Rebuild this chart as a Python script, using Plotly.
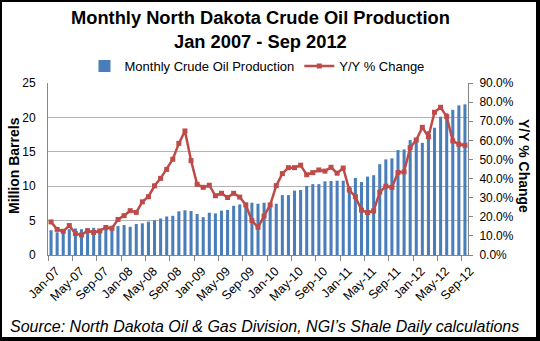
import pandas as pd
import plotly.graph_objects as go

# Months covered, Jan 2007 through Sep 2012
months = pd.date_range("2007-01-01", periods=69, freq="MS").strftime("%b-%y").tolist()

# Monthly crude oil production, million barrels
production = [
    3.6, 3.3, 3.4, 3.75, 3.85, 3.75, 3.9, 3.95, 3.75, 3.85, 3.95, 4.2,        # 2007
    4.35, 4.1, 4.5, 4.6, 4.85, 5.05, 5.3, 5.6, 5.7, 6.35, 6.5, 6.4,           # 2008
    5.95, 5.5, 6.15, 6.05, 6.45, 6.55, 7.15, 7.35, 7.6, 7.6, 7.45, 7.6,       # 2009
    7.55, 7.45, 8.7, 8.7, 9.35, 9.45, 10.05, 10.3, 10.3, 10.7, 10.75, 10.8,   # 2010
    10.8, 10.0, 11.2, 10.6, 11.4, 11.6, 13.2, 13.9, 14.05, 15.25, 15.35, 16.7,  # 2011
    16.9, 16.3, 18.0, 18.5, 20.1, 20.6, 21.1, 21.75, 21.9,                   # 2012
]

# Year-over-year change, percent
yoy_pct = [
    17.3, 13.4, 12.4, 15.4, 11.2, 10.5, 12.7, 11.8, 12.6, 14.4, 14.0, 18.6,
    20.6, 23.2, 22.3, 27.8, 30.5, 36.2, 40.1, 44.8, 50.1, 58.4, 64.9, 49.4,
    37.0, 35.4, 36.5, 31.0, 32.3, 30.1, 32.3, 30.3, 26.2, 18.0, 14.5, 20.4,
    26.2, 36.3, 42.6, 45.7, 45.7, 47.0, 42.0, 43.1, 44.5, 43.9, 45.9, 42.8,
    45.5, 34.0, 30.5, 23.5, 22.2, 23.1, 32.9, 36.0, 35.4, 43.2, 43.5, 56.2,
    60.2, 66.8, 61.9, 74.7, 77.3, 72.4, 59.7, 57.9, 57.4,
]
yoy = [v / 100 for v in yoy_pct]

FONT = "Liberation Sans, Arial, sans-serif"
W, H = 540, 341
L, R, T, B = 48, 72, 83, 86
PW, PH = W - L - R, H - T - B


def px(x):
    return (x - L) / PW


def py(y):
    return (H - B - y) / PH


fig = go.Figure()
fig.add_trace(go.Bar(
    x=months, y=production, name="Monthly Crude Oil Production",
    marker=dict(color="#4A7EBB", line=dict(width=0)),
))
fig.add_trace(go.Scatter(
    x=months, y=yoy, name="Y/Y % Change", yaxis="y2", mode="lines+markers",
    line=dict(color="#BE4B48", width=2.5),
    marker=dict(symbol="square", size=5, color="#BE4B48"),
))

fig.update_layout(
    width=W, height=H,
    margin=dict(l=L, r=R, t=T, b=B),
    paper_bgcolor="black",
    plot_bgcolor="rgba(0,0,0,0)",
    font=dict(family=FONT, size=12, color="black"),
    bargap=0.5,
    showlegend=True,
    legend=dict(
        orientation="h", x=px(257), y=py(66), xanchor="center", yanchor="middle",
        font=dict(size=13), bgcolor="rgba(0,0,0,0)", itemwidth=30,
        traceorder="normal",
    ),
    xaxis=dict(
        type="category", tickmode="linear", dtick=4, tickangle=-45,
        tickson="boundaries", ticks="outside", ticklen=5, tickcolor="#868686",
        showline=True, linecolor="#868686", linewidth=1, showgrid=False,
        tickfont=dict(size=12.5), range=[-0.5, 68.5],
        ticklabelshift=5, ticklabelstandoff=3,
    ),
    yaxis=dict(
        range=[0, 25], dtick=5, showgrid=True, gridcolor="#B4B4B4", gridwidth=1.2,
        showline=True, linecolor="#868686", linewidth=1, ticks="",
        ticklabelstandoff=9, zeroline=False, tickfont=dict(size=12),
    ),
    yaxis2=dict(
        range=[0, 0.9], dtick=0.1, tickformat=".1%", overlaying="y", side="right",
        showgrid=False, showline=True, linecolor="#868686", linewidth=1,
        ticks="outside", ticklen=4, tickcolor="#868686", ticklabelstandoff=4,
        zeroline=False, tickfont=dict(size=12),
    ),
    shapes=[
        dict(type="rect", xref="paper", yref="paper", layer="below",
             x0=px(2), x1=px(536), y0=py(2), y1=py(337),
             fillcolor="white", line=dict(width=0)),
    ],
    annotations=[
        dict(text="<b>Monthly North Dakota Crude Oil Production</b><br><b>Jan 2007 - Sep 2012</b>",
             xref="paper", yref="paper", x=px(260), y=py(30), xanchor="center", yanchor="middle",
             showarrow=False, font=dict(size=18.3)),
        dict(text="<b>Million Barrels</b>", xref="paper", yref="paper",
             x=px(14), y=py(166), xanchor="center", yanchor="middle",
             textangle=-90, showarrow=False, font=dict(size=14)),
        dict(text="<b>Y/Y % Change</b>", xref="paper", yref="paper",
             x=px(524), y=py(166), xanchor="center", yanchor="middle",
             textangle=90, showarrow=False, font=dict(size=14)),
        dict(text="<i>Source: North Dakota Oil & Gas Division, NGI\u2019s Shale Daily calculations</i>",
             xref="paper", yref="paper", x=px(264), y=py(326), xanchor="center", yanchor="middle",
             showarrow=False, font=dict(size=16)),
    ],
)

fig.write_html("out.html")
